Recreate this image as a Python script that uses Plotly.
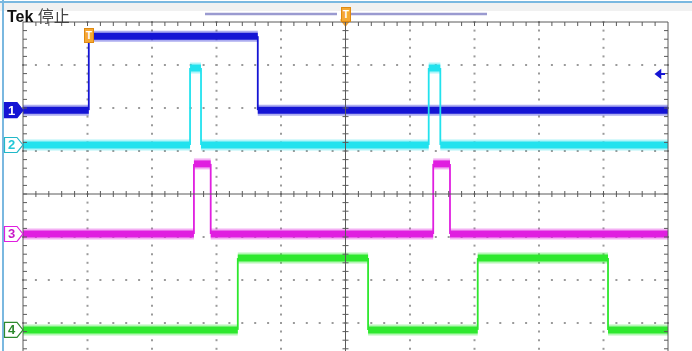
import plotly.graph_objects as go

# ---- data (time and amplitude in screen divisions) ----
ch_names = ["1", "2", "3", "4"]
ch_colors = ["#1414d4", "#22e2ee", "#e01ee0", "#2ee82e"]
ch_tag_text = ["#ffffff", "#22c8d8", "#c818c8", "#2e8a2e"]
ch_tag_fill = ["#1414d4", "#ffffff", "#ffffff", "#ffffff"]
ch_low = [1.95, 1.14, -0.93, -3.16]
ch_high = [3.67, 2.93, 0.70, -1.49]
ch_edges = [
    [-3.98, -1.36],
    [-2.41, -2.24, 1.29, 1.47],
    [-2.35, -2.09, 1.36, 1.62],
    [-1.67, 0.35, 2.05, 4.07],
]
trig_level = 2.79          # blue trigger-level arrow (divisions)
trig_pos = -3.98           # trigger "T" marker time

# ---- geometry ----
W, H = 692, 351
PX_DIV_X, PX_DIV_Y = 64.5, 43.0
CX, CY = 345.5, 194.0
XR = [-CX / PX_DIV_X, (W - CX) / PX_DIV_X]
YR = [(CY - H) / PX_DIV_Y, CY / PX_DIV_Y]
def px2x(p): return (p - CX) / PX_DIV_X
def py2y(p): return (CY - p) / PX_DIV_Y

GRID = "#5a5a5a"
DOT = "#9a9a9a"

fig = go.Figure()
shapes = []
annotations = []

# top strip and window borders
shapes.append(dict(type="rect", xref="paper", yref="paper", x0=0, x1=1,
                   y0=1 - 11 / H, y1=1 - 3 / H, fillcolor="#f1f1f1", line_width=0, layer="below"))
shapes.append(dict(type="line", xref="paper", yref="paper", x0=0, x1=1,
                   y0=1 - 2 / H, y1=1 - 2 / H, line=dict(color="#7ab8e0", width=2)))
shapes.append(dict(type="line", xref="paper", yref="paper", x0=3 / W, x1=3 / W,
                   y0=0, y1=1, line=dict(color="#7ab8e0", width=2)))

# dotted grid
dx, dy = [], []
minor = [i * 0.2 for i in range(-25, 26)]
minor_y = [i * 0.2 for i in range(-20, 21)]
for gx in [-4, -3, -2, -1, 1, 2, 3, 4]:
    for v in minor_y:
        dx.append(gx); dy.append(v)
for gy in [-3, -2, -1, 1, 2, 3]:
    for v in minor:
        dx.append(v); dy.append(gy)
fig.add_trace(go.Scatter(x=dx, y=dy, mode="markers", hoverinfo="skip",
                         marker=dict(size=2, color=DOT, symbol="square", line_width=0)))

# graticule border and centre lines
for (x0, y0, x1, y1) in [(-5, 4, 5, 4), (-5, 4, -5, -4), (5, 4, 5, -4), (0, 4, 0, -4), (-5, 0, 5, 0)]:
    shapes.append(dict(type="line", xref="x", yref="y", x0=x0, y0=y0, x1=x1, y1=y1,
                       line=dict(color=GRID, width=1)))

# ticks
tl = 4.0
path = ""
for v in minor:
    if -5 < v < 5:
        path += f"M{v},4 L{v},{4 - tl / PX_DIV_Y} "
        path += f"M{v},{3 / PX_DIV_Y} L{v},{-3 / PX_DIV_Y} "
for v in minor_y:
    if -4 < v < 4:
        path += f"M-5,{v} L{-5 + tl / PX_DIV_X},{v} "
        path += f"M5,{v} L{5 - tl / PX_DIV_X},{v} "
        path += f"M{-3 / PX_DIV_X},{v} L{3 / PX_DIV_X},{v} "
shapes.append(dict(type="path", xref="x", yref="y", path=path, line=dict(color=GRID, width=1)))

# channel traces
for name, col, lo, hi, edges in zip(ch_names, ch_colors, ch_low, ch_high, ch_edges):
    bounds = [-5.0] + edges + [5.0]
    hx, hy = [], []
    for i in range(len(bounds) - 1):
        lev = lo if i % 2 == 0 else hi
        hx += [bounds[i], bounds[i + 1], None]
        hy += [lev, lev, None]
    vx, vy = [], []
    for e in edges:
        vx += [e, e, None]
        vy += [lo, hi, None]
    fig.add_trace(go.Scatter(x=vx, y=vy, mode="lines", hoverinfo="skip",
                             line=dict(color=col, width=1.8)))
    fig.add_trace(go.Scatter(x=hx, y=hy, mode="lines", hoverinfo="skip", opacity=0.35,
                             line=dict(color=col, width=11)))
    fig.add_trace(go.Scatter(x=hx, y=hy, mode="lines", hoverinfo="skip",
                             line=dict(color=col, width=7)))

# channel tags on the left
for name, col, txt, fill, lo in zip(ch_names, ch_colors, ch_tag_text, ch_tag_fill, ch_low):
    border = col if name != "4" else "#2e8a2e"
    if name == "2":
        border = "#22b8c8"
    x0, x1, xt = px2x(4.5), px2x(17), px2x(23)
    hh = 7.5 / PX_DIV_Y
    shapes.append(dict(type="path", xref="x", yref="y",
                       path=f"M{x0},{lo + hh} L{x1},{lo + hh} L{xt},{lo} L{x1},{lo - hh} L{x0},{lo - hh} Z",
                       fillcolor=fill, line=dict(color=border, width=1.2)))
    annotations.append(dict(x=px2x(11.5), y=lo, xref="x", yref="y", text=f"<b>{name}</b>",
                            showarrow=False, font=dict(family="Liberation Sans", size=13, color=txt)))

# header text
annotations.append(dict(x=5 / W, y=1 - 17 / H, xref="paper", yref="paper", xanchor="left",
                        yanchor="middle", showarrow=False,
                        text="<b>Tek</b> <span style='color:#444'>停止</span>",
                        font=dict(family="Liberation Sans, Noto Sans CJK SC", size=16, color="#111")))

# horizontal position bar
for (a, b) in [(205, 337), (351, 487)]:
    shapes.append(dict(type="line", xref="paper", yref="paper", x0=a / W, x1=b / W,
                       y0=1 - 14 / H, y1=1 - 14 / H, line=dict(color="#9a9ad0", width=2.5)))

# trigger position marker (centre) and trigger marker on ch1
fig.add_trace(go.Scatter(x=[0], y=[py2y(22)], mode="markers", hoverinfo="skip", cliponaxis=False,
                         marker=dict(symbol="triangle-down", size=10, color="#f0a030")))
annotations.append(dict(x=0, y=py2y(14), xref="x", yref="y", text="<b>T</b>", showarrow=False,
                        bgcolor="#f5a833", bordercolor="#e08a10", borderpad=1,
                        font=dict(family="Liberation Sans", size=10, color="#ffffff")))
annotations.append(dict(x=trig_pos, y=py2y(35), xref="x", yref="y", text="<b>T</b>", showarrow=False,
                        bgcolor="#f5a833", bordercolor="#e08a10", borderpad=1,
                        font=dict(family="Liberation Sans", size=10, color="#ffffff")))

# trigger level arrow (right)
fig.add_trace(go.Scatter(x=[px2x(659)], y=[trig_level], mode="markers", hoverinfo="skip",
                         marker=dict(symbol="triangle-left", size=9, color="#1414d4")))
shapes.append(dict(type="line", xref="x", yref="y", x0=px2x(659), x1=px2x(665),
                   y0=trig_level, y1=trig_level, line=dict(color="#1414d4", width=2)))

fig.update_layout(
    width=W, height=H, margin=dict(l=0, r=0, t=0, b=0),
    paper_bgcolor="white", plot_bgcolor="white", showlegend=False,
    xaxis=dict(range=XR, visible=False, fixedrange=True),
    yaxis=dict(range=YR, visible=False, fixedrange=True),
    shapes=shapes, annotations=annotations,
)
fig.write_html("out.html")
